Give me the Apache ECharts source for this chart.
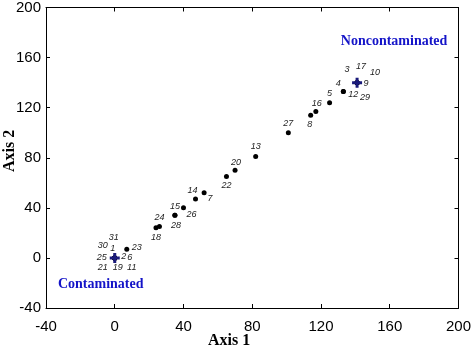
<!DOCTYPE html>
<html>
<head>
<meta charset="utf-8">
<script src="https://cdn.jsdelivr.net/npm/echarts@6/dist/echarts.min.js"></script>
<style>
  html, body { margin: 0; padding: 0; background: #fff; }
  #chart { width: 474px; height: 351px; }
</style>
</head>
<body>
<div id="chart"></div>
<script>
// samples 1..31, scores on the two axes
const pointIds = ['1', '2', '3', '4', '5', '6', '7', '8', '9', '10',
  '11', '12', '13', '14', '15', '16', '17', '18', '19', '20',
  '21', '22', '23', '24', '25', '26', '27', '28', '29', '30', '31']
const axis1 = [0, 0, 141, 133, 125, 0, 52, 114, 141, 141,
  0, 133, 82, 47, 35, 117, 141, 24, 0, 70,
  0, 65, 7, 26, 0, 40, 101, 35, 141, 0, 0]
const axis2 = [0, 0, 140, 133, 124, 0, 52, 114, 140, 140,
  0, 133, 81, 47, 34, 117, 140, 24, 0, 70,
  0, 65, 7, 25, 0, 40, 100, 34, 140, 0, 0]

// group centroids
const groupNames = ['Contaminated', 'Noncontaminated']
const groupAxis1 = [0, 141]
const groupAxis2 = [0, 140]

const axisTicks = [-40, 0, 40, 80, 120, 160, 200]

// label placement (pixel offsets from each point)
const labelOffsets = {
  '1': [-2, -9], '2': [9, -1], '3': [-10, -13], '4': [-5, -8], '5': [0, -9],
  '6': [15, 0], '7': [6, 6], '8': [-1, 9], '9': [9, 1], '10': [18, -10],
  '11': [17, 10], '12': [10, 3], '13': [0, -10], '14': [-3, -9], '15': [0, -9],
  '16': [1, -8], '17': [4, -16], '18': [0, 10], '19': [3, 10], '20': [1, -8],
  '21': [-12, 10], '22': [0, 9], '23': [10, -2], '24': [0, -9], '25': [-13, 0],
  '26': [8, 7], '27': [0, -9], '28': [1, 10], '29': [8, 15], '30': [-12, -12],
  '31': [-1, -20]
}
const groupLabelOffsets = [[-14, 26], [37, -41]]

const cross = 'path://M3.5,0H6.5V3.5H10V6.5H6.5V10H3.5V6.5H0V3.5H3.5Z'

const chart = echarts.init(document.getElementById('chart'))

const axisBase = {
  type: 'value',
  min: axisTicks[0],
  max: axisTicks[axisTicks.length - 1],
  interval: 40,
  splitLine: { show: false },
  axisLine: { show: true, onZero: false, lineStyle: { color: '#000', width: 1 } },
  axisTick: { show: true, inside: true, length: 4, lineStyle: { color: '#000' } }
}

const tickFont = { color: '#000', fontFamily: 'Liberation Sans', fontSize: 15 }

const option = {
  animation: false,
  backgroundColor: '#fff',
  grid: { left: 46, right: 13, top: 6, bottom: 43 },
  xAxis: [
    Object.assign({}, axisBase, {
      position: 'bottom',
      axisLabel: Object.assign({ margin: 11 }, tickFont)
    }),
    Object.assign({}, axisBase, { position: 'top', axisLabel: { show: false } })
  ],
  yAxis: [
    Object.assign({}, axisBase, {
      position: 'left',
      axisLabel: Object.assign({ margin: 5 }, tickFont)
    }),
    Object.assign({}, axisBase, { position: 'right', axisLabel: { show: false } })
  ],
  graphic: [
    {
      type: 'text', left: 208, top: 333,
      style: { text: 'Axis 1', font: 'bold 16px "Liberation Serif"', fill: '#000' }
    },
    {
      type: 'text', x: 2, y: 172, rotation: Math.PI / 2,
      style: { text: 'Axis 2', font: 'bold 16px "Liberation Serif"', fill: '#000' }
    }
  ],
  series: [
    {
      type: 'scatter',
      symbol: 'circle',
      symbolSize: 5,
      itemStyle: { color: '#000', opacity: 1 },
      label: {
        show: true,
        position: 'inside',
        formatter: p => p.name,
        fontFamily: 'Liberation Sans',
        fontStyle: 'italic',
        fontSize: 9,
        color: '#222'
      },
      data: pointIds.map((id, i) => ({
        name: id,
        value: [axis1[i], axis2[i]],
        label: { offset: labelOffsets[id] }
      }))
    },
    {
      type: 'scatter',
      symbol: cross,
      symbolSize: 10,
      itemStyle: { color: '#1a1a7a', opacity: 1 },
      label: {
        show: true,
        position: 'inside',
        formatter: p => p.name,
        fontFamily: 'Liberation Serif',
        fontWeight: 'bold',
        fontSize: 14,
        color: '#1414c8'
      },
      data: groupNames.map((n, i) => ({
        name: n,
        value: [groupAxis1[i], groupAxis2[i]],
        label: { offset: groupLabelOffsets[i] }
      }))
    }
  ]
}

chart.setOption(option)
</script>
</body>
</html>
